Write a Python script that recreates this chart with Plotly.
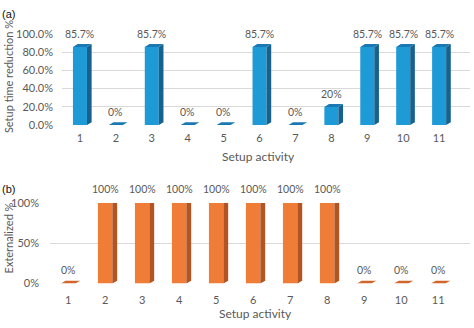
import plotly.graph_objects as go

activities = list(range(1, 12))
tick_labels = [str(a) for a in activities]
reduction = [0.857, 0, 0.857, 0, 0, 0.857, 0, 0.20, 0.857, 0.857, 0.857]
reduction_labels = ["85.7%", "0%", "85.7%", "0%", "0%", "85.7%", "0%", "20%", "85.7%", "85.7%", "85.7%"]
externalized = [0, 1, 1, 1, 1, 1, 1, 1, 0, 0, 0]
externalized_labels = ["0%", "100%", "100%", "100%", "100%", "100%", "100%", "100%", "0%", "0%", "0%"]

FONT = "Lato"
GRAY = "#595959"
W = 0.39
DX = 0.13

fig = go.Figure()


def add_3d(xs, vals, dy, front, top, side, xa, ya):
    fig.add_trace(go.Bar(x=xs, y=vals, width=W, marker=dict(color=front, line=dict(width=0)),
                         xaxis=xa, yaxis=ya, showlegend=False, hoverinfo="skip"))
    sx, sy, tx, ty = [], [], [], []
    for x, v in zip(xs, vals):
        r = x + W / 2
        l = x - W / 2
        sx += [r, r + DX, r + DX, r, r, None]
        sy += [0, dy, v + dy, v, 0, None]
        tx += [l, l + DX, r + DX, r, l, None]
        ty += [v, v + dy, v + dy, v, v, None]
    fig.add_trace(go.Scatter(x=sx, y=sy, mode="lines", fill="toself", fillcolor=side,
                             line=dict(width=0, color=side), xaxis=xa, yaxis=ya,
                             showlegend=False, hoverinfo="skip"))
    fig.add_trace(go.Scatter(x=tx, y=ty, mode="lines", fill="toself", fillcolor=top,
                             line=dict(width=0, color=top), xaxis=xa, yaxis=ya,
                             showlegend=False, hoverinfo="skip"))


add_3d(activities, reduction, 0.032, "#1e9ad6", "#1a78b3", "#17618f", "x", "y")
add_3d(activities, externalized, 0.036, "#f07d37", "#d2652a", "#b25522", "x2", "y2")

annotations = []
for x, v, t in zip(activities, reduction, reduction_labels):
    annotations.append(dict(x=x, y=v, xref="x", yref="y", text=t, showarrow=False,
                            yanchor="middle", yshift=13, font=dict(family=FONT, size=10.5, color=GRAY)))
for x, v, t in zip(activities, externalized, externalized_labels):
    annotations.append(dict(x=x, y=v, xref="x2", yref="y2", text=t, showarrow=False,
                            yanchor="middle", yshift=14, font=dict(family=FONT, size=10.5, color=GRAY)))

annotations += [
    dict(x=0.0, y=1 - 7 / 328, xref="paper", yref="paper", xanchor="left", yanchor="middle",
         text="(a)", showarrow=False, font=dict(family="Liberation Sans", size=11, color="#111")),
    dict(x=0.0, y=1 - 190 / 328, xref="paper", yref="paper", xanchor="left", yanchor="middle",
         text="(b)", showarrow=False, font=dict(family="Liberation Sans", size=11, color="#111")),
    dict(x=8 / 474, y=1 - 73 / 328, xref="paper", yref="paper", textangle=-90,
         xanchor="center", yanchor="middle",
         text="Setup time reduction %", showarrow=False, font=dict(family=FONT, size=11, color=GRAY)),
    dict(x=8 / 474, y=1 - 241 / 328, xref="paper", yref="paper", textangle=-90,
         xanchor="center", yanchor="middle",
         text="Externalized %", showarrow=False, font=dict(family=FONT, size=11, color=GRAY)),
    dict(x=258 / 474, y=1 - 156 / 328, xref="paper", yref="paper", xanchor="center", yanchor="middle",
         text="Setup activity", showarrow=False, font=dict(family=FONT, size=12, color=GRAY)),
    dict(x=255 / 474, y=1 - 319 / 328, xref="paper", yref="paper", xanchor="center", yanchor="middle",
         text="Setup activity", showarrow=False, font=dict(family=FONT, size=12, color=GRAY)),
]

axis_common = dict(showline=False, zeroline=False, ticks="")
fig.update_layout(
    width=474, height=328, margin=dict(l=0, r=0, t=0, b=0),
    paper_bgcolor="white", plot_bgcolor="white",
    font=dict(family=FONT, size=11, color=GRAY),
    annotations=annotations,
    xaxis=dict(domain=[62 / 474, 470 / 474], range=[0.5, 11.86], tickvals=activities,
               ticktext=tick_labels, showgrid=False, anchor="y", ticklabelstandoff=5,
               tickfont=dict(family=FONT, size=11, color=GRAY), **axis_common),
    yaxis=dict(domain=[1 - 123 / 328, 1 - 28 / 328], range=[0, 1], tickvals=[0, 0.2, 0.4, 0.6, 0.8, 1.0],
               tickformat=".1%", showgrid=True, gridcolor="#d9d9d9", gridwidth=1, anchor="x",
               ticklabelstandoff=8, tickfont=dict(family=FONT, size=11, color=GRAY), **axis_common),
    xaxis2=dict(domain=[50 / 474, 470 / 474], range=[0.51, 11.86], tickvals=activities,
                ticktext=tick_labels, showgrid=False, anchor="y2", ticklabelstandoff=8,
                tickfont=dict(family=FONT, size=11, color=GRAY), **axis_common),
    yaxis2=dict(domain=[1 - 288 / 328, 1 - 204 / 328], range=[0, 1], tickvals=[0, 0.5, 1.0],
                tickformat=".0%", showgrid=True, gridcolor="#d9d9d9", gridwidth=1, anchor="x2",
                ticklabelstandoff=10, tickfont=dict(family=FONT, size=11, color=GRAY), **axis_common),
)

fig.write_html("out.html")
